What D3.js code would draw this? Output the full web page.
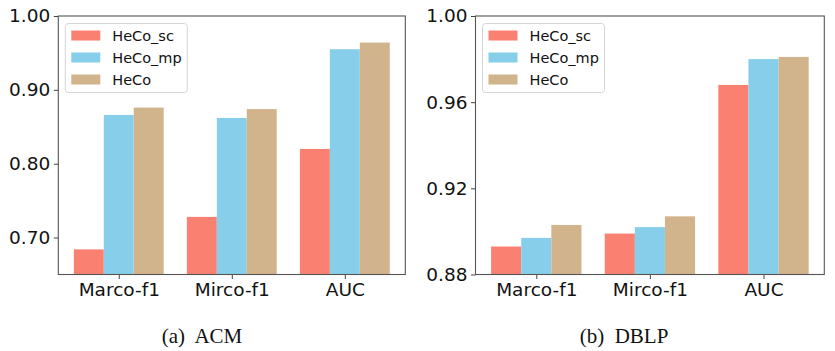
<!DOCTYPE html>
<meta charset="utf-8">
<style>
  body { margin: 0; background: #fff; }
</style>
<body>
<div id="chart"></div>
<script src="https://d3js.org/d3.v7.min.js"></script>
<script>

// data
var categories = ["Marco-f1", "Mirco-f1", "AUC"];
var seriesNames = ["HeCo_sc", "HeCo_mp", "HeCo"];
var seriesColors = ["#FA8072", "#87CEEB", "#D2B48C"];

var acmSc = [0.684, 0.728, 0.820];
var acmMp = [0.866, 0.862, 0.955];
var acmHeCo = [0.876, 0.874, 0.964];

var dblpSc = [0.893, 0.899, 0.968];
var dblpMp = [0.897, 0.902, 0.980];
var dblpHeCo = [0.903, 0.907, 0.981];

var acmTicks = [0.70, 0.80, 0.90, 1.00];
var dblpTicks = [0.88, 0.92, 0.96, 1.00];

var captions = ["(a)  ACM", "(b)  DBLP"];

var svg = d3.select("#chart")
  .append("svg")
    .attr("width", 835)
    .attr("height", 351)
    .style("font-family", "DejaVu Sans, sans-serif");

var barW = 0.265;

function drawPanel(p) {
  var x = d3.scaleLinear().domain([-0.535, 2.535]).range([p.left, p.right]);
  var y = d3.scaleLinear().domain(p.domain).range([p.bottom, p.top]);
  var g = svg.append("g");

  var series = [p.sc, p.mp, p.heco];
  series.forEach(function(vals, s) {
    g.selectAll(null)
      .data(vals)
      .enter()
      .append("rect")
        .attr("x", function(d, i) { return x(i + (s - 1) * barW - barW / 2); })
        .attr("width", function(d, i) { return x(barW) - x(0); })
        .attr("y", function(d) { return y(d); })
        .attr("height", function(d) { return y(p.domain[0]) - y(d); })
        .attr("fill", seriesColors[s]);
  });

  // y axis
  var yAxis = g.append("g")
    .attr("transform", "translate(" + p.left + ",0)")
    .call(d3.axisLeft(y).tickValues(p.ticks).tickFormat(d3.format(".2f")).tickSize(4.5).tickPadding(3.5));
  yAxis.select(".domain").remove();
  yAxis.selectAll("line").attr("stroke", "#444");
  yAxis.selectAll("text").attr("font-size", "18.5px").attr("fill", "#111")
    .attr("font-family", "DejaVu Sans, sans-serif");

  // x axis
  var xAxis = g.append("g")
    .attr("transform", "translate(0," + p.bottom + ")")
    .call(d3.axisBottom(x).tickValues([0, 1, 2]).tickFormat(function(d) { return categories[d]; }).tickSize(4.5).tickPadding(3.5));
  xAxis.select(".domain").remove();
  xAxis.selectAll("line").attr("stroke", "#444");
  xAxis.selectAll("text").attr("font-size", "18.5px").attr("fill", "#111")
    .attr("font-family", "DejaVu Sans, sans-serif");

  // frame
  g.append("rect")
    .attr("x", p.left)
    .attr("y", p.top)
    .attr("width", p.right - p.left)
    .attr("height", p.bottom - p.top)
    .attr("fill", "none")
    .attr("stroke", "#555")
    .attr("stroke-width", 1.1);

  // legend
  var lx = p.left + 7, ly = p.top + 7.5;
  var lg = g.append("g").attr("transform", "translate(" + lx + "," + ly + ")");
  lg.append("rect")
    .attr("width", 122)
    .attr("height", 69)
    .attr("rx", 3)
    .attr("fill", "#fff")
    .attr("stroke", "#d5d5d5");
  seriesNames.forEach(function(name, s) {
    lg.append("rect")
      .attr("x", 6)
      .attr("y", 7 + s * 22)
      .attr("width", 29)
      .attr("height", 10)
      .attr("fill", seriesColors[s]);
    lg.append("text")
      .attr("x", 47)
      .attr("y", 12 + s * 22)
      .attr("dy", "0.35em")
      .attr("font-size", "14.5px")
      .attr("fill", "#111")
      .text(name);
  });

  // caption
  svg.append("text")
    .attr("x", p.capX)
    .attr("y", 343)
    .attr("text-anchor", "middle")
    .style("font-family", "'Liberation Serif', serif")
    .style("font-size", "21px")
    .style("white-space", "pre")
    .attr("fill", "#111")
    .text(p.caption);
}

drawPanel({
  left: 58.3, right: 405.3, top: 16, bottom: 274.5,
  domain: [0.65, 1.00], ticks: acmTicks,
  sc: acmSc, mp: acmMp, heco: acmHeCo,
  caption: captions[0], capX: 202
});

drawPanel({
  left: 475.5, right: 824.3, top: 16, bottom: 274.5,
  domain: [0.88, 1.00], ticks: dblpTicks,
  sc: dblpSc, mp: dblpMp, heco: dblpHeCo,
  caption: captions[1], capX: 624
});

</script>
</body>
